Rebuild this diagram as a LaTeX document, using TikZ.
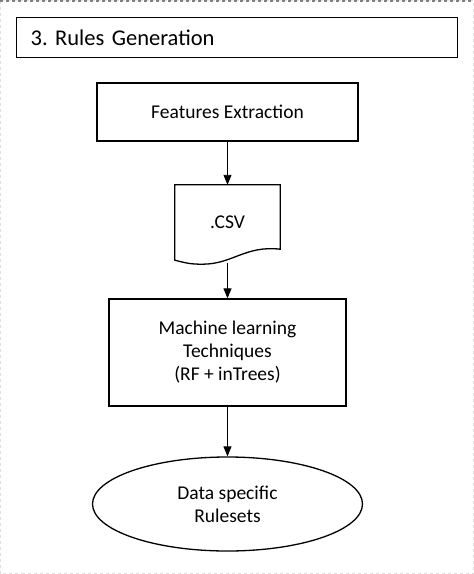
\documentclass[tikz,border=0pt]{standalone}
\usepackage{fontspec}
\setmainfont{Carlito}
\frenchspacing
\usepackage{tikz}
\usetikzlibrary{shapes.geometric,arrows.meta,calc}

\begin{document}
\begin{tikzpicture}[x=1pt,y=-1pt,
  box/.style={draw, line width=1.3pt, align=center, font=\fontsize{19.5}{23}\selectfont},
  flow/.style={-{Triangle[length=10pt,width=8pt]}, line width=0.9pt}]
\useasboundingbox (0,0) rectangle (474,574);
\draw[gray!25, dashed, line width=0.6pt] (0.5,0.5) rectangle (473.5,573.5);
\draw[gray, dashed, line width=1.6pt] (0,1) -- (474,1);

\node[draw, line width=1.3pt, anchor=north west, minimum height=40pt, text width=413pt, inner xsep=14pt, align=left, font=\fontsize{22.5}{26}\selectfont] (title) at (16,17) {3. Rules Generation};

\node[box, minimum width=261pt, minimum height=58pt] (feat) at (227.5,112) {Features Extraction};
\node[inner sep=0pt, minimum width=105pt, minimum height=75pt, font=\fontsize{19.5}{23}\selectfont] (csv) at (227.5,222.5) {.CSV};
\draw[line width=1.3pt] (csv.north west) -- (csv.north east) -- ($(csv.south east)+(0,-11)$)
  .. controls +(-35,-4) and +(30,0) .. ($(csv.south)+(-25,4)$)
  .. controls +(-12,0) and +(12,3) .. (csv.south west) -- cycle;
\coordinate (csvout) at ($(csv.south)+(0,3)$);
\node[box, minimum width=237pt, minimum height=107pt] (ml) at (227.5,352.5) {Machine learning\\Techniques\\(RF + inTrees)};
\node[box, ellipse, inner sep=0pt, minimum width=270pt, minimum height=94pt] (rules) at (227.5,504) {Data specific\\Rulesets};

\draw[flow] (feat) -- (csv);
\draw[flow] (csvout) -- (ml);
\draw[flow] (ml) -- (rules);
\end{tikzpicture}
\end{document}
